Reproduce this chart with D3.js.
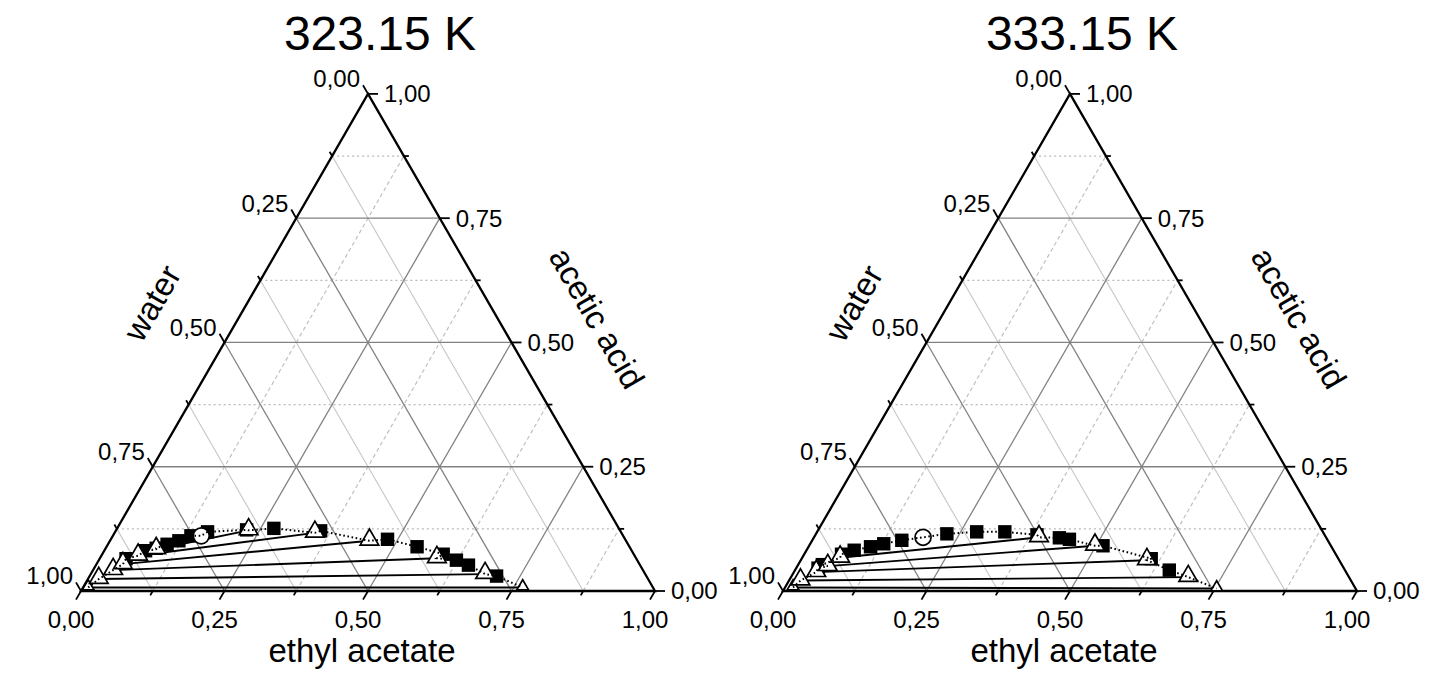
<!DOCTYPE html>
<html>
<head>
<meta charset="utf-8">
<script src="https://cdn.jsdelivr.net/npm/d3@7/dist/d3.min.js"></script>
<style>
  html, body { margin: 0; padding: 0; background: #fff; }
  svg { display: block; font-family: "Liberation Sans", Arial, sans-serif; }
</style>
</head>
<body>
<svg id="chart" width="1432" height="679"></svg>
<script>
// ---------------- data (compositions as [ethyl acetate, acetic acid], mass fractions) ----------------
const titles = ["323.15 K", "333.15 K"];
const majorTicks = [0, 0.25, 0.5, 0.75, 1];
const majorTickLabels = ["0,00", "0,25", "0,50", "0,75", "1,00"];
const minorTicks = [0.125, 0.375, 0.625, 0.875];
const axisNames = ["ethyl acetate", "water", "acetic acid"];

// 323.15 K
const cloud323 = [[0.046,0.065],[0.072,0.081],[0.088,0.086],[0.103,0.094],[0.120,0.101],[0.136,0.111],
  [0.161,0.119],[0.227,0.123],[0.273,0.126],[0.357,0.121],[0.482,0.104],[0.541,0.089],[0.594,0.074],
  [0.623,0.062],[0.649,0.052],[0.709,0.030]];
const tieAqueous323 = [[0.009,0.007],[0.019,0.024],[0.035,0.042],[0.046,0.054],[0.064,0.071],[0.089,0.084]];
const tieOrganic323 = [[0.766,0.007],[0.687,0.034],[0.587,0.066],[0.452,0.101],[0.349,0.117],[0.231,0.122]];
const plait323 = [[0.154,0.111]];

// 333.15 K
const cloud333 = [[0.038,0.046],[0.042,0.053],[0.065,0.074],[0.083,0.082],[0.108,0.089],[0.128,0.095],
  [0.156,0.102],[0.228,0.115],[0.278,0.119],[0.327,0.119],[0.386,0.113],[0.428,0.107],[0.447,0.104],
  [0.512,0.091],[0.609,0.065],[0.652,0.042]];
const tieAqueous333 = [[0.014,0.007],[0.020,0.021],[0.039,0.038],[0.053,0.050],[0.066,0.067]];
const tieOrganic333 = [[0.753,0.005],[0.692,0.028],[0.603,0.062],[0.498,0.091],[0.392,0.108]];
const plait333 = [[0.190,0.108]];

// ---------------- layout ----------------
const svg = d3.select("#chart");
const SIDE = 574, HT = SIDE * Math.sqrt(3) / 2;
const panels = [
  { x0: 81,  y0: 591, title: titles[0], cloud: cloud323, aq: tieAqueous323, org: tieOrganic323, plait: plait323 },
  { x0: 783, y0: 591, title: titles[1], cloud: cloud333, aq: tieAqueous333, org: tieOrganic333, plait: plait333 }
];

panels.forEach(p => {
  const g = svg.append("g");
  const xs = d3.scaleLinear().domain([0, 1]).range([p.x0, p.x0 + SIDE]);
  const ys = d3.scaleLinear().domain([0, 1]).range([p.y0, p.y0 - HT]);
  const P = (ea, ac) => [xs(ea + ac / 2), ys(ac)];
  const line = d3.line();
  const cx = xs(0.5);

  // grid
  const gridG = g.append("g").attr("fill", "none");
  const addGrid = (vals, kind, style) => {
    vals.forEach(v => {
      let a, b;
      if (kind === "acid") { a = P(0, v); b = P(1 - v, v); }
      else if (kind === "water") { a = P(0, 1 - v); b = P(1 - v, 0); }
      else { a = P(v, 0); b = P(v, 1 - v); }
      const l = gridG.append("path").attr("d", line([a, b]))
        .attr("stroke", style.c).attr("stroke-width", style.w);
      if (style.dash) l.attr("stroke-dasharray", style.dash);
    });
  };
  const majors = majorTicks.slice(1, 4);
  addGrid(minorTicks, "water", { c: "#c6c6c6", w: 1.1 });
  addGrid(minorTicks, "acid", { c: "#b8b8b8", w: 1.3, dash: "2,3" });
  addGrid(minorTicks, "ea", { c: "#c0c0c0", w: 1.2, dash: "4,3" });
  ["water", "acid", "ea"].forEach(k => addGrid(majors, k, { c: "#828282", w: 1.3 }));

  // triangle frame
  g.append("path").attr("d", line([P(0, 0), P(1, 0), P(0, 1)]) + "Z")
    .attr("fill", "none").attr("stroke", "#000").attr("stroke-width", 2.3).attr("stroke-linejoin", "miter");

  // ticks + labels
  const tickG = g.append("g").attr("stroke", "#000").attr("stroke-width", 1.8);
  const labG = g.append("g").attr("font-size", 24).attr("fill", "#000");
  const dirs = {
    ea: [-0.5, Math.sqrt(3) / 2],
    water: [-0.5, -Math.sqrt(3) / 2],
    acid: [1, 0]
  };
  const base = {
    ea: v => P(v, 0),
    water: v => P(0, 1 - v),
    acid: v => P(1 - v, v)
  };
  ["ea", "water", "acid"].forEach(k => {
    const d = dirs[k];
    const doTick = (v, len) => {
      const s = base[k](v);
      const e = [s[0] + d[0] * len, s[1] + d[1] * len];
      tickG.append("line").attr("x1", s[0]).attr("y1", s[1]).attr("x2", e[0]).attr("y2", e[1]);
      return e;
    };
    minorTicks.forEach(v => doTick(v, 5));
    majorTicks.forEach((v, i) => {
      const e = doTick(v, 10);
      const t = labG.append("text").text(majorTickLabels[i]);
      if (k === "ea") t.attr("x", e[0] - 5).attr("y", e[1] + 28).attr("text-anchor", "middle");
      else if (k === "water") t.attr("x", e[0] - 3).attr("y", e[1] + 2).attr("text-anchor", "end");
      else t.attr("x", e[0] + 6).attr("y", e[1]).attr("dy", "0.35em").attr("text-anchor", "start");
    });
  });

  // titles
  g.append("text").text(p.title).attr("x", cx + 12).attr("y", 50)
    .attr("text-anchor", "middle").attr("font-size", 48);
  g.append("text").text(axisNames[0]).attr("x", cx - 6).attr("y", 662)
    .attr("text-anchor", "middle").attr("font-size", 33);
  g.append("text").text(axisNames[1])
    .attr("transform", `translate(${p.x0 + 71},303) rotate(-60)`)
    .attr("text-anchor", "middle").attr("dy", "0.35em").attr("font-size", 33);
  g.append("text").text(axisNames[2])
    .attr("transform", `translate(${p.x0 + 516},318) rotate(60)`)
    .attr("text-anchor", "middle").attr("dy", "0.35em").attr("font-size", 33);

  // tie lines
  p.aq.forEach((a, i) => {
    g.append("path").attr("d", line([P(a[0], a[1]), P(p.org[i][0], p.org[i][1])]))
      .attr("stroke", "#000").attr("stroke-width", 1.9).attr("fill", "none");
  });

  // cloud points (squares)
  const sq = d3.symbol().type(d3.symbolSquare).size(180);
  g.append("g").selectAll("path").data(p.cloud).join("path")
    .attr("d", sq).attr("transform", d => `translate(${P(d[0], d[1])})`).attr("fill", "#000");

  // tie-line end points (open triangles)
  const triBig = d3.symbol().type(d3.symbolTriangle).size(150)();
  const triSmall = d3.symbol().type(d3.symbolTriangle).size(60)();
  const ends = [];
  p.aq.forEach((d, i) => ends.push({ d, small: i === 0 }));
  p.org.forEach((d, i) => ends.push({ d, small: i === 0 }));
  g.append("g").selectAll("path").data(ends).join("path")
    .attr("d", e => e.small ? triSmall : triBig)
    .attr("transform", e => { const q = P(e.d[0], e.d[1]); return `translate(${q[0]},${q[1] - 1})`; })
    .attr("fill", "#fff").attr("stroke", "#000").attr("stroke-width", 1.7).attr("stroke-linejoin", "miter");

  // plait point
  g.append("g").selectAll("circle").data(p.plait).join("circle")
    .attr("cx", d => P(d[0], d[1])[0]).attr("cy", d => P(d[0], d[1])[1]).attr("r", 8)
    .attr("fill", "#fff").attr("stroke", "#000").attr("stroke-width", 1.7);

  // binodal curve (dotted) through all points, ordered along the dome
  const all = [].concat(p.cloud, p.aq, p.org, p.plait).map(d => P(d[0], d[1]));
  const c0 = P(0.4, 0);
  all.sort((a, b) => Math.atan2(c0[1] - b[1], b[0] - c0[0]) - Math.atan2(c0[1] - a[1], a[0] - c0[0]));
  g.append("path").attr("d", line(all)).attr("fill", "none")
    .attr("stroke", "#000").attr("stroke-width", 2).attr("stroke-dasharray", "1.6,2.6");
});
</script>
</body>
</html>
